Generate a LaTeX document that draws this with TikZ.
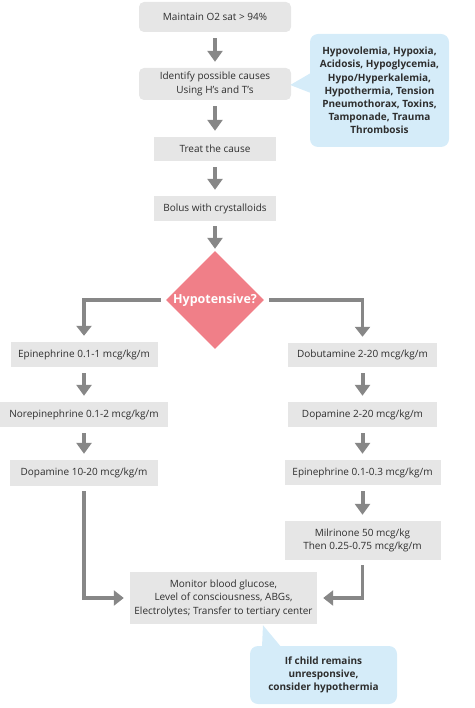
\documentclass[tikz,border=0pt]{standalone}
\usepackage{fontspec}
\setmainfont{Open Sans}
\usetikzlibrary{shapes.geometric,arrows.meta,calc}
\definecolor{boxgray}{HTML}{E6E6E6}
\definecolor{arrowgray}{HTML}{878787}
\definecolor{txt}{HTML}{2E2E2E}
\definecolor{callblue}{HTML}{D5ECF9}
\definecolor{pinkd}{HTML}{F07F88}
\begin{document}
\begin{tikzpicture}[x=1pt,y=-1pt,
  box/.style={fill=boxgray, text=txt, inner sep=0pt, align=center, font=\fontsize{10}{13.5}\selectfont},
  rbox/.style={box, rounded corners=5pt},
  call/.style={fill=callblue, rounded corners=8pt, text=txt, align=center, inner sep=0pt, font=\fontsize{10}{13.2}\selectfont\bfseries},
  arr/.style={draw=arrowgray, line width=4pt, -{Triangle[width=15pt,length=11pt]}},
  barr/.style={draw=arrowgray, line width=3.2pt, -{Triangle[width=15pt,length=10pt]}},
  varr/.style={arr, shorten <=6pt, shorten >=6pt},
]
\useasboundingbox (0,0) rectangle (474,708);
% top chain
\node[rbox, minimum width=152pt, minimum height=30pt] (b1) at (215,17) {Maintain O2 sat > 94\%};
\node[rbox, minimum width=152pt, minimum height=32pt] (b2) at (215,84) {Identify possible causes\\Using H’s and T’s};
\node[box, minimum width=122pt, minimum height=24pt] (b3) at (215,149) {Treat the cause};
\node[box, minimum width=122pt, minimum height=25pt] (b4) at (215,208.5) {Bolus with crystalloids};
\node[diamond, fill=pinkd, minimum width=98pt, minimum height=98pt, inner sep=0pt, text=white, font=\fontsize{12.5}{14}\selectfont\bfseries] (d) at (215,300) {Hypotensive?};
\draw[varr] (b1) -- (b2);
\draw[varr] (b2) -- (b3);
\draw[varr] (b3) -- (b4);
\draw[arr, shorten <=5pt, shorten >=2pt] (b4) -- (d);
% callout 1
\node[call, minimum width=139pt, minimum height=113pt] (c1) at (379.5,90.5) {Hypovolemia, Hypoxia,\\Acidosis, Hypoglycemia,\\Hypo/Hyperkalemia,\\Hypothermia, Tension\\Pneumothorax, Toxins,\\Tamponade, Trauma\\Thrombosis};
\fill[callblue] ($(c1.west)+(1,-17.5)$) -- ($(b2.east)+(-1,1)$) -- ($(c1.west)+(1,2.5)$) -- cycle;
% left column
\node[box, minimum width=147pt, minimum height=25pt] (l1) at (84,354.5) {Epinephrine 0.1-1 mcg/kg/m};
\node[box, minimum width=168pt, minimum height=25pt] (l2) at (84,414.5) {Norepinephrine 0.1-2 mcg/kg/m};
\node[box, minimum width=148pt, minimum height=26pt] (l3) at (84,473) {Dopamine 10-20 mcg/kg/m};
\draw[varr] (l1) -- (l2);
\draw[varr] (l2) -- (l3);
% right column
\node[box, minimum width=149pt, minimum height=24pt] (r1) at (362.5,355) {Dobutamine 2-20 mcg/kg/m};
\node[box, minimum width=149pt, minimum height=25pt] (r2) at (362.5,414.5) {Dopamine 2-20 mcg/kg/m};
\node[box, minimum width=156pt, minimum height=25pt] (r3) at (362.5,472.5) {Epinephrine 0.1-0.3 mcg/kg/m};
\node[box, minimum width=156pt, minimum height=39pt] (r4) at (362.5,540.5) {Milrinone 50 mcg/kg\\Then 0.25-0.75 mcg/kg/m};
\draw[varr] (r1) -- (r2);
\draw[varr] (r2) -- (r3);
\draw[varr] (r3) -- (r4);
% branches
\draw[barr, shorten <=5pt, shorten >=6pt] (d.west) -| (l1.north);
\draw[barr, shorten <=5pt, shorten >=6pt] (d.east) -| (r1.north);
% bottom
\node[box, minimum width=187pt, minimum height=52pt] (m) at (223.5,598) {Monitor blood glucose,\\Level of consciousness, ABGs,\\Electrolytes; Transfer to tertiary center};
\draw[barr, shorten <=5pt, shorten >=6pt] (l3.south) |- (m.west);
\draw[barr, shorten <=5pt, shorten >=6pt] (r4.south) |- (m.east);
% callout 2
\node[call, minimum width=147pt, minimum height=58pt] (c2) at (323.5,675) {If child remains\\unresponsive,\\consider hypothermia};
\fill[callblue] ($(c2.north)+(-61.5,1)$) -- ($(m.south)+(39.5,1)$) -- ($(c2.north)+(-42.5,1)$) -- cycle;
\end{tikzpicture}
\end{document}
